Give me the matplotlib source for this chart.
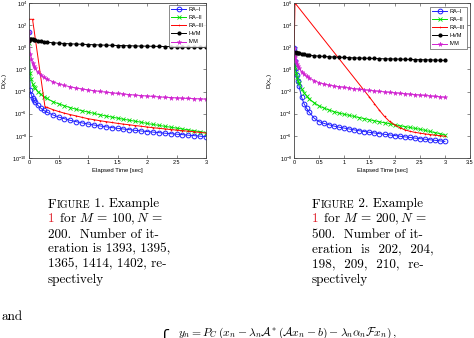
import numpy as np
import matplotlib
matplotlib.use('Agg')
import matplotlib.pyplot as plt

plt.rcParams['mathtext.fontset'] = 'cm'

# time grid (sec), shared by most curves of one figure
t_grid = [0, 0.02, 0.04, 0.06, 0.08, 0.1, 0.15, 0.2, 0.25, 0.3,
          0.4, 0.5, 0.6, 0.7, 0.8, 0.9, 1.0, 1.1, 1.2, 1.3, 1.4, 1.5,
          1.6, 1.7, 1.8, 1.9, 2.0, 2.1, 2.2, 2.3, 2.4, 2.5, 2.6, 2.7,
          2.8, 2.9, 3.0]

# ---- figure 1 : M=100, N=200 (log10 of D(x_n)) ----
f1_ra1 = [1.4, -3.9, -4.3, -4.55, -4.75, -4.9, -5.25, -5.5, -5.7, -5.85,
          -6.1, -6.3, -6.45, -6.6, -6.72, -6.83, -6.93, -7.02, -7.1, -7.18,
          -7.25, -7.32, -7.38, -7.44, -7.5, -7.56, -7.61, -7.66, -7.71,
          -7.76, -7.8, -7.85, -7.89, -7.94, -7.98, -8.03, -8.07]
f1_ra2 = [0.4, -2.3, -2.9, -3.3, -3.55, -3.7, -4.0, -4.25, -4.45, -4.6,
          -4.9, -5.1, -5.28, -5.45, -5.6, -5.73, -5.85, -5.97, -6.09, -6.2,
          -6.3, -6.4, -6.5, -6.59, -6.68, -6.77, -6.88, -6.97, -7.05,
          -7.14, -7.22, -7.3, -7.38, -7.46, -7.54, -7.62, -7.7]
f1_ra3_t = [0, 0.06, 0.27, 0.3, 0.4, 0.5, 0.6, 0.7, 0.8, 0.9, 1.0, 1.1,
            1.2, 1.3, 1.4, 1.5, 1.6, 1.7, 1.8, 1.9, 2.0, 2.1, 2.2, 2.3,
            2.4, 2.5, 2.6, 2.7, 2.8, 2.9, 3.0]
f1_ra3 = [2.53, 2.53, -5.35, -5.42, -5.62, -5.8, -5.95, -6.08, -6.2, -6.33,
          -6.45, -6.54, -6.63, -6.71, -6.79, -6.87, -6.94, -7.0, -7.07,
          -7.13, -7.2, -7.26, -7.32, -7.37, -7.43, -7.48, -7.53, -7.58,
          -7.63, -7.69, -7.75]
f1_hvm = [0.6, 0.73, 0.75, 0.72, 0.68, 0.65, 0.58, 0.53, 0.49, 0.46,
          0.41, 0.37, 0.34, 0.31, 0.29, 0.27, 0.25, 0.23, 0.21, 0.19, 0.18,
          0.16, 0.15, 0.14, 0.12, 0.11, 0.1, 0.09, 0.08, 0.07, 0.06, 0.05,
          0.04, 0.03, 0.02, 0.01, 0.0]
f1_ivm = [1.4, -0.6, -1.1, -1.45, -1.7, -1.9, -2.25, -2.5, -2.7, -2.85,
          -3.1, -3.3, -3.45, -3.57, -3.68, -3.77, -3.85, -3.92, -3.99, -4.05,
          -4.11, -4.17, -4.22, -4.27, -4.32, -4.36, -4.4, -4.44, -4.48,
          -4.51, -4.54, -4.57, -4.6, -4.62, -4.64, -4.66, -4.68]

# ---- figure 2 : M=200, N=500 ----
f2_ra1 = [1.96, 0.8, 0.1, -0.5, -1.0, -1.5, -2.5, -3.1, -3.5, -3.85,
          -4.4, -4.72, -4.88, -5.0, -5.12, -5.22, -5.3, -5.38, -5.46, -5.54,
          -5.61, -5.68, -5.74, -5.8, -5.86, -5.92, -5.97, -6.03, -6.09,
          -6.14, -6.2, -6.25, -6.3, -6.35, -6.4, -6.45, -6.5]
f2_ra2 = [0.5, 0.2, -0.3, -0.7, -1.0, -1.25, -1.75, -2.1, -2.4, -2.65,
          -3.0, -3.3, -3.5, -3.67, -3.82, -3.95, -4.05, -4.15, -4.25, -4.35,
          -4.45, -4.55, -4.64, -4.73, -4.82, -4.9, -5.0, -5.08, -5.16,
          -5.24, -5.32, -5.4, -5.5, -5.6, -5.7, -5.8, -5.92]
f2_ra3_t = [0, 0.02, 1.5, 1.6, 1.7, 1.8, 1.9, 2.0, 2.1, 2.2, 2.3, 2.4,
            2.5, 2.6, 2.7, 2.8, 2.9, 3.0]
f2_ra3 = [1.0, 6.0, -2.5, -3.1, -3.7, -4.25, -4.7, -5.0, -5.25, -5.45,
          -5.58, -5.68, -5.75, -5.82, -5.88, -5.93, -5.98, -6.03]
f2_hvm = [1.2, 1.5, 1.55, 1.52, 1.48, 1.45, 1.4, 1.36, 1.32, 1.29,
          1.24, 1.2, 1.17, 1.14, 1.12, 1.1, 1.08, 1.06, 1.04, 1.03, 1.01,
          1.0, 0.99, 0.97, 0.96, 0.95, 0.94, 0.93, 0.92, 0.9, 0.89, 0.88,
          0.87, 0.86, 0.85, 0.83, 0.82]
f2_ivm = [1.96, 1.1, 0.75, 0.5, 0.3, 0.15, -0.2, -0.45, -0.62, -0.76,
          -1.0, -1.2, -1.32, -1.42, -1.5, -1.56, -1.62, -1.68, -1.74, -1.79,
          -1.84, -1.89, -1.94, -1.98, -2.03, -2.07, -2.11, -2.15, -2.19,
          -2.23, -2.27, -2.31, -2.35, -2.39, -2.43, -2.47, -2.51]

method_names = ['RA\u2013I', 'RA\u2013II', 'RA\u2013III', 'HVM', 'IVM']

W, H = 474, 338


def panel(rect, curves, xmax, xticks, ymin, ymax, leg_anchor):
    ax = fig.add_axes(rect)
    styles = [dict(color='#2020ff', marker='o', ms=3.4, mfc='none', mew=0.7),
              dict(color='#00e000', marker='x', ms=2.2, mew=0.6),
              dict(color='#ff0000', marker='+', ms=1.8, mew=0.4),
              dict(color='k', marker='.', ms=4.0),
              dict(color='#d020d0', marker='*', ms=3.4, mew=0.3)]
    for (t, v), name, st in zip(curves, method_names, styles):
        ax.semilogy(t, 10.0 ** np.array(v), lw=0.7, label=name, **st)
    ax.set_xlim(0, xmax)
    ax.set_ylim(10.0 ** ymin, 10.0 ** ymax)
    ax.set_xticks(xticks)
    ax.set_xticklabels(['%g' % x for x in xticks])
    ax.set_yticks([10.0 ** e for e in range(ymin, ymax + 1, 2)])
    ax.minorticks_off()
    ax.tick_params(direction='in', top=True, right=True, labelsize=4,
                   length=2, width=0.4, pad=1.5, color='#333333')
    for s in ax.spines.values():
        s.set_linewidth(0.6)
        s.set_color('#444444')
    for lab in ax.get_xticklabels() + ax.get_yticklabels():
        lab.set_family('Liberation Sans')
    ax.set_xlabel('Elapsed Time [sec]', fontsize=4.3, family='Liberation Sans')
    ax.set_ylabel('D(x$_n$)', fontsize=4.3, family='Liberation Sans')
    ax.xaxis.set_label_coords(0.5, -0.065)
    ax.yaxis.set_label_coords(-0.11, 0.5)
    leg = ax.legend(loc='upper right', bbox_to_anchor=leg_anchor,
                    handlelength=2.6, labelspacing=0.55, borderpad=0.4,
                    handletextpad=0.5, borderaxespad=0, fancybox=False,
                    prop={'family': 'Liberation Sans', 'size': 4})
    leg.get_frame().set_edgecolor('#333333')
    leg.get_frame().set_linewidth(0.5)
    return ax


def chain(x, y, pieces, size=9.5):
    # write text pieces one after another on the same baseline
    for txt, col, fs in pieces:
        t = fig.text(x / W, 1 - y / H, txt, color=col, fontsize=fs or size,
                     family='cmr10', va='baseline')
        fig.canvas.draw()
        x = t.get_window_extent().x1 * W / fig.bbox.width


def caption(x0, y0, lines):
    for i, pieces in enumerate(lines):
        chain(x0, y0 + 15 * i, pieces)


fig = plt.figure(figsize=(W / 100, H / 100), dpi=100)

c1 = [(t_grid, f1_ra1), (t_grid, f1_ra2), (f1_ra3_t, f1_ra3),
      (t_grid, f1_hvm), (t_grid, f1_ivm)]
panel([29 / W, 1 - 158 / H, 177 / W, 155 / H], c1, 3,
      [0, 0.5, 1, 1.5, 2, 2.5, 3], -10, 4, (1.0, 0.987))

c2 = [(t_grid, f2_ra1), (t_grid, f2_ra2), (f2_ra3_t, f2_ra3),
      (t_grid, f2_hvm), (t_grid, f2_ivm)]
panel([294 / W, 1 - 158 / H, 176 / W, 155 / H], c2, 3.5,
      [0, 0.5, 1, 1.5, 2, 2.5, 3, 3.5], -8, 6, (0.983, 0.974))

red = '#e0202a'
caption(48, 207.5, [
    [('F', 'k', None), ('IGURE', 'k', 7.3), (' 1. Example', 'k', None)],
    [('1', red, None), (' for $M\\,=\\,100, N\\,=$', 'k', None)],
    [('200.  Number of it-', 'k', None)],
    [('eration is 1393, 1395,', 'k', None)],
    [('1365, 1414, 1402, re-', 'k', None)],
    [('spectively', 'k', None)],
])
caption(312, 207.5, [
    [('F', 'k', None), ('IGURE', 'k', 7.3), (' 2. Example', 'k', None)],
    [('1', red, None), (' for $M\\,=\\,200, N\\,=$', 'k', None)],
    [('500.  Number of it-', 'k', None)],
    [('eration  is  202,  204,', 'k', None)],
    [('198,  209,  210,  re-', 'k', None)],
    [('spectively', 'k', None)],
])

fig.text(2 / W, 1 - 320 / H, 'and', fontsize=9.5, family='cmr10', va='baseline')
fig.text(159 / W, 1 - 328 / H, '\u23a7', fontsize=11, family='DejaVu Sans',
         va='top')
fig.text(178 / W, 1 - 336 / H,
         r'$y_n = P_C\,(x_n - \lambda_n\mathcal{A}^*(\mathcal{A}x_n - b)'
         r' - \lambda_n\alpha_n\mathcal{F}x_n)\,,$',
         fontsize=8.4, va='baseline')

plt.savefig('out.png', dpi=100)
